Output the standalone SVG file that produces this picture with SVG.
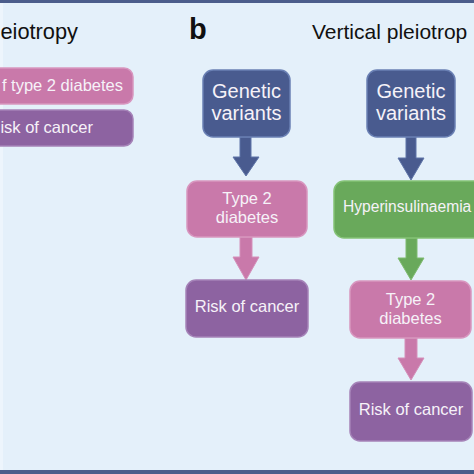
<svg xmlns="http://www.w3.org/2000/svg" width="474" height="474" viewBox="0 0 474 474">
<defs>
<style>
.bg{fill:#e4f0fa}
.bar{fill:#4b5d8b}
.t{font-family:"Liberation Sans",Arial,sans-serif;fill:#f6f2f8}
.h{font-family:"Liberation Sans",Arial,sans-serif;fill:#111111}
.blue{fill:#495b8f;stroke:#6a80b4;stroke-width:1.5}
.pink{fill:#c979aa;stroke:#d896bf;stroke-width:1.5}
.purple{fill:#8d63a1;stroke:#a583b8;stroke-width:1.5}
.green{fill:#69a95b;stroke:#84c276;stroke-width:1.5}
.ab{fill:#495b8f;stroke:#5f75a8;stroke-width:1}
.ap{fill:#c979aa;stroke:#d590ba;stroke-width:1}
.ag{fill:#69a95b;stroke:#7fbb70;stroke-width:1}
</style>
</defs>
<rect class="bg" x="0" y="0" width="474" height="474"/>
<rect x="0" y="0" width="3" height="474" fill="#edf5fc"/>
<rect class="bar" x="0" y="0" width="474" height="3"/>
<rect class="bar" x="0" y="470" width="474" height="4"/>

<text class="h" x="78" y="39" font-size="21.8" text-anchor="end">eiotropy</text>
<text class="h" x="189" y="39" font-size="29" font-weight="bold">b</text>
<text class="h" x="312" y="39" font-size="21">Vertical pleiotrop</text>

<g id="connectors">
<path class="ab" d="M240,137 H251 V157 H259 L246,176 L233,157 H240 Z"/>
<path class="ap" d="M240,237 H252 V257 H259 L246,280 L233,257 H240 Z"/>
<path class="ab" d="M406,137 H416 V158 H424 L411,180 L398,158 H406 Z"/>
<path class="ag" d="M406,238 H417 V258 H424 L411,280 L398,258 H406 Z"/>
<path class="ap" d="M405,338 H417 V358 H424 L411,380 L398,358 H405 Z"/>
</g>

<g id="a-t2d">
<rect class="pink" x="-20" y="68" width="153" height="36" rx="9"/>
<text class="t" x="123" y="91" font-size="16.5" text-anchor="end">f type 2 diabetes</text>
</g>
<g id="a-cancer">
<rect class="purple" x="-20" y="110" width="153" height="36" rx="9"/>
<text class="t" x="93" y="133" font-size="16.5" text-anchor="end">isk of cancer</text>
</g>

<g id="b1-genetic">
<rect class="blue" x="203" y="70" width="87" height="67" rx="10"/>
<text class="t" x="246.5" y="98" font-size="20" text-anchor="middle">Genetic</text>
<text class="t" x="246.5" y="120" font-size="20" text-anchor="middle">variants</text>
</g>
<g id="b1-t2d">
<rect class="pink" x="187" y="181" width="120" height="56" rx="10"/>
<text class="t" x="247" y="204" font-size="16.5" text-anchor="middle">Type 2</text>
<text class="t" x="247" y="223" font-size="16.5" text-anchor="middle">diabetes</text>
</g>
<g id="b1-cancer">
<rect class="purple" x="186" y="280" width="122" height="57" rx="10"/>
<text class="t" x="247" y="312" font-size="16.5" text-anchor="middle">Risk of cancer</text>
</g>

<g id="b2-genetic">
<rect class="blue" x="367" y="70" width="88" height="67" rx="10"/>
<text class="t" x="411" y="98" font-size="20" text-anchor="middle">Genetic</text>
<text class="t" x="411" y="120" font-size="20" text-anchor="middle">variants</text>
</g>
<g id="b2-hyper">
<rect class="green" x="334" y="181" width="160" height="57" rx="10"/>
<text class="t" x="343" y="212" font-size="15.6">Hyperinsulinaemia</text>
</g>
<g id="b2-t2d">
<rect class="pink" x="350" y="281" width="121" height="57" rx="10"/>
<text class="t" x="410.5" y="305" font-size="16.5" text-anchor="middle">Type 2</text>
<text class="t" x="410.5" y="324" font-size="16.5" text-anchor="middle">diabetes</text>
</g>
<g id="b2-cancer">
<rect class="purple" x="350" y="382" width="122" height="59" rx="10"/>
<text class="t" x="411" y="415" font-size="16.5" text-anchor="middle">Risk of cancer</text>
</g>
</svg>
